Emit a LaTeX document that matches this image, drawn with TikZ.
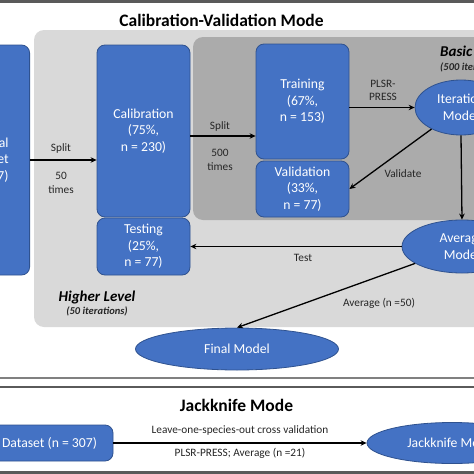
\documentclass[tikz,border=0pt]{standalone}
\usepackage{fontspec}
\setmainfont{Carlito}
\usetikzlibrary{shapes.geometric,arrows.meta,calc}
\definecolor{boxblue}{HTML}{4472C4}
\definecolor{boxedge}{HTML}{2F528F}
\definecolor{lightpanel}{HTML}{D9D9D9}
\definecolor{darkpanel}{HTML}{ABABAB}
\definecolor{labeltext}{HTML}{262626}
\definecolor{frameline}{HTML}{5A5A5A}
\definecolor{sepline}{HTML}{808080}
\begin{document}
\begin{tikzpicture}[x=1pt,y=-1pt,
  boxfont/.style={font=\fontsize{13.7}{16.5}\selectfont},
  bluebox/.style={draw=boxedge, line width=0.8pt, fill=boxblue, rounded corners=8pt,
    text=white, boxfont, align=center, inner sep=0pt},
  blueell/.style={ellipse, draw=boxedge, line width=0.8pt, fill=boxblue,
    text=white, boxfont, align=center, inner sep=0pt},
  conn/.style={line width=1.3pt, -{Stealth[length=6pt,width=5.5pt]}},
  lbl/.style={text=labeltext, font=\fontsize{11.3}{13.5}\selectfont, align=center, inner sep=0pt},
  titletext/.style={text=black, font=\fontsize{17.5}{20}\selectfont\bfseries, inner sep=0pt},
  leveltext/.style={text=black, font=\fontsize{15}{17}\selectfont\bfseries\itshape, inner sep=0pt},
  itertext/.style={text=labeltext, font=\fontsize{10.5}{12}\selectfont\bfseries\itshape, inner sep=0pt},
  panel/.style={rounded corners=10pt}
]
\useasboundingbox (0,0) rectangle (474,474);
\clip (0,0) rectangle (474,474);
\fill[white] (0,0) rectangle (474,474);

% frame lines
\draw[frameline, line width=3pt] (-10,1.3) -- (490,1.3);
\draw[sepline, line width=1.5pt] (-10,378) -- (490,378);
\draw[frameline, line width=1.5pt] (-10,387) -- (490,387);
\draw[frameline, line width=3pt] (-10,472.7) -- (490,472.7);

% panels
\fill[lightpanel, panel] (34,30) rectangle (520,327);
\fill[darkpanel, panel] (193,37) rectangle (520,220);

% titles
\node[titletext] (cvtitle) at (221.5,20) {Calibration-Validation Mode};
\node[titletext] (jktitle) at (236.5,405) {Jackknife Mode};
\node[leveltext] (higher) at (97,297) {Higher Level};
\node[itertext] (higherit) at (97,311) {(50 iterations)};
\node[leveltext, anchor=west] (basic) at (440,51) {Basic Level};
\node[itertext, anchor=west] (basicit) at (440,67) {(500 iterations)};

% boxes
\node[bluebox, anchor=east, minimum height=230pt, text width=60pt, inner xsep=21pt, align=right] (total) at (30,160) {Total\\Dataset\\(n = 307)};
\node[bluebox, minimum width=93pt, minimum height=172pt] (calib) at (143.5,131) {Calibration\\(75\%,\\n = 230)};
\node[bluebox, minimum width=93pt, minimum height=57pt] (test) at (143.5,246.5) {Testing\\(25\%,\\n = 77)};
\node[bluebox, minimum width=93pt, minimum height=115pt] (train) at (302.5,101.5) {Training\\(67\%,\\n = 153)};
\node[bluebox, minimum width=93pt, minimum height=56pt] (val) at (302.5,189) {Validation\\(33\%,\\n = 77)};
\node[blueell, minimum width=92pt, minimum height=55pt] (iter) at (461,107.5) {Iteration\\Model};
\node[blueell, minimum width=120pt, minimum height=53pt] (avg) at (462,246.5) {Average\\Model};
\node[blueell, minimum width=203pt, minimum height=42pt] (final) at (237,349) {Final Model};
\node[bluebox, minimum width=127pt, minimum height=36pt] (ds) at (49.5,443) {Dataset (n = 307)};
\node[blueell, minimum width=170pt, minimum height=41pt] (jk) at (452,443) {Jackknife Model};

% connectors
\draw[conn] (total.east) -- (total.east -| calib.west);
\draw[conn] ([yshift=-5pt]calib.east) -- ([yshift=-5pt]calib.east -| train.west);
\draw[conn] (train.east |- iter.west) -- (iter.west);
\draw[conn] (iter) -- (val.east);
\draw[conn] (iter.south) -- (avg.north);
\draw[conn] (avg.west) -- (avg.west -| test.east);
\draw[conn] (avg) -- (final.north);
\draw[conn] (ds.east) -- (jk.west);

% labels
\node[lbl] (l1a) at (61,148) {Split};
\node[lbl] (l1b) at (61,183) {50\\times};
\node[lbl] (l2a) at (220,126) {Split};
\node[lbl] (l2b) at (220,160) {500\\times};
\node[lbl] (l3) at (383,90.5) {PLSR-\\PRESS};
\node[lbl] (l4) at (403,174) {Validate};
\node[lbl] (l5) at (303,258) {Test};
\node[lbl] (l6) at (379,303) {Average (n =50)};
\node[lbl] (l7) at (240,430) {Leave-one-species-out cross validation};
\node[lbl] (l8) at (240,453) {PLSR-PRESS; Average (n =21)};
\end{tikzpicture}
\end{document}
